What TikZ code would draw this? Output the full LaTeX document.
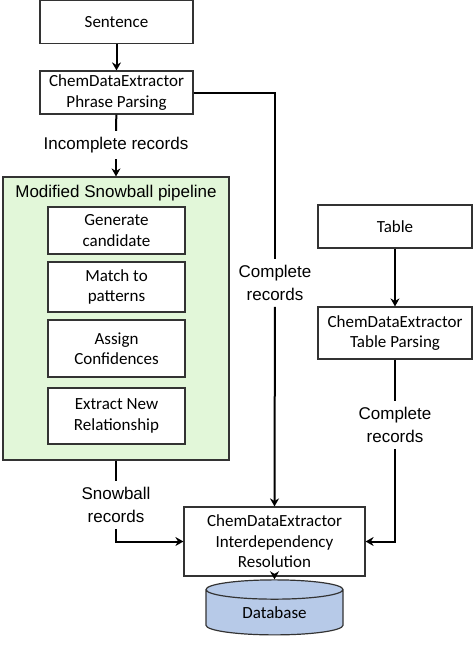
\documentclass[tikz,border=0pt]{standalone}
\usepackage{fontspec}
\setmainfont{Liberation Sans}
\newfontfamily\boxfont{Carlito}
\usetikzlibrary{shapes.geometric,arrows.meta}
\definecolor{snowgreen}{RGB}{226,247,217}
\definecolor{dbblue}{RGB}{183,202,232}

\begin{document}
\begin{tikzpicture}[x=1pt,y=-1pt,
  box/.style={draw=black!80,line width=1.2pt,fill=white,align=center,inner sep=0pt,font=\boxfont\fontsize{17}{20.5}\selectfont},
  lbl/.style={align=center,inner sep=6pt,font=\fontsize{17}{23}\selectfont},
  conn/.style={line width=2pt},
  >={Stealth[length=8pt,width=9pt]}]
\useasboundingbox (0,0) rectangle (474,645);

% left column
\node[box,minimum width=153pt,minimum height=43pt] (sentence) at (116.5,22) {Sentence};
\node[box,minimum width=153pt,minimum height=43pt] (phrase) at (116.5,92.5) {ChemDataExtractor\\Phrase Parsing};
\node[lbl] (incomplete) at (116,145) {Incomplete records};

\node[draw=black!80,line width=1.2pt,fill=snowgreen,minimum width=226pt,minimum height=283pt,inner sep=0pt] (pipeline) at (116,318.5) {};
\node[lbl,inner sep=0pt] (pipetitle) at (116,193) {Modified Snowball pipeline};
\node[box,minimum width=137pt,minimum height=47pt] (generate) at (116.5,230.5) {Generate\\candidate};
\node[box,minimum width=137pt,minimum height=50pt] (match) at (116.5,287) {Match to\\patterns};
\node[box,minimum width=137pt,minimum height=57pt] (assign) at (116.5,348.5) {Assign\\Confidences};
\node[box,minimum width=137pt,minimum height=56pt] (extract) at (116.5,416) {Extract New\\Relationship};
\node[lbl] (snowball) at (116,505) {Snowball\\records};

% middle and right
\node[lbl] (completeA) at (275,283) {Complete\\records};
\node[box,minimum width=154pt,minimum height=43pt] (table) at (395,226.5) {Table};
\node[box,minimum width=154pt,minimum height=52pt] (tableparse) at (395,333) {ChemDataExtractor\\Table Parsing};
\node[lbl] (completeB) at (395,425) {Complete\\records};

\node[box,minimum width=181pt,minimum height=69pt] (interdep) at (274.5,541.5) {ChemDataExtractor\\Interdependency\\Resolution};
\node[draw=black!80,line width=1.2pt,fill=dbblue,cylinder,shape border rotate=90,aspect=0.3,minimum width=137pt,minimum height=55pt,inner sep=0pt,font=\boxfont\fontsize{17}{20}\selectfont] (db) at (274.5,612.5) {Database};

% connectors
\draw[conn,->] (sentence) -- (phrase);
\draw[conn] (phrase) -- (incomplete);
\draw[conn,->] (incomplete) -- (pipeline);
\draw[conn] (phrase.east) -| (completeA.north);
\draw[conn,->] (completeA) -- (interdep.north);
\draw[conn,->] (table) -- (tableparse);
\draw[conn] (tableparse) -- (completeB);
\draw[conn,->] (completeB.south) |- (interdep.east);
\draw[conn] (pipeline.south) -- (snowball);
\draw[conn,->] (snowball.south) |- (interdep.west);
\draw[conn,->] (interdep) -- (db);

\end{tikzpicture}
\end{document}
